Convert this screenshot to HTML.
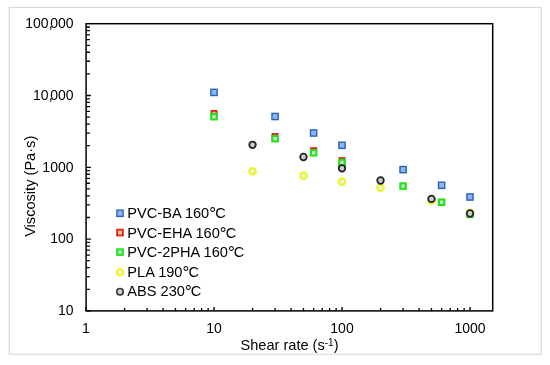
<!DOCTYPE html>
<html><head><meta charset="utf-8"><style>
html,body{margin:0;padding:0;background:#fff;}
svg{display:block;}
.t{font-family:"Liberation Sans",Arial,sans-serif;font-size:14.6px;fill:#000;}
.c{letter-spacing:-2.4px;}
.sup{font-size:10px;}
.dg{font-size:17px;}
.tl{font-size:14px;}
</style></head><body>
<svg width="550" height="365" viewBox="0 0 550 365">
<rect x="9.2" y="7.4" width="532" height="346.8" fill="#fff" stroke="#d9d9d9" stroke-width="1.2"/>
<rect x="86.1" y="23.7" width="406.6" height="287.2" fill="none" stroke="#000" stroke-width="1.5"/>
<path d="M86.2 310.90H90.9 M86.2 289.29H89.9 M86.2 276.64H89.9 M86.2 267.67H89.9 M86.2 260.71H89.9 M86.2 255.03H89.9 M86.2 250.22H89.9 M86.2 246.06H89.9 M86.2 242.39H89.9 M86.2 239.10H90.9 M86.2 217.49H89.9 M86.2 204.84H89.9 M86.2 195.87H89.9 M86.2 188.91H89.9 M86.2 183.23H89.9 M86.2 178.42H89.9 M86.2 174.26H89.9 M86.2 170.59H89.9 M86.2 167.30H90.9 M86.2 145.69H89.9 M86.2 133.04H89.9 M86.2 124.07H89.9 M86.2 117.11H89.9 M86.2 111.43H89.9 M86.2 106.62H89.9 M86.2 102.46H89.9 M86.2 98.79H89.9 M86.2 95.50H90.9 M86.2 73.89H89.9 M86.2 61.24H89.9 M86.2 52.27H89.9 M86.2 45.31H89.9 M86.2 39.63H89.9 M86.2 34.82H89.9 M86.2 30.66H89.9 M86.2 26.99H89.9" stroke="#000" stroke-width="1.3" fill="none"/>
<path d="M86.00 310.9V306.9 M124.53 310.9V307.9 M147.07 310.9V307.9 M163.06 310.9V307.9 M175.47 310.9V307.9 M185.60 310.9V307.9 M194.17 310.9V307.9 M201.60 310.9V307.9 M208.14 310.9V307.9 M214.00 310.9V306.9 M252.53 310.9V307.9 M275.07 310.9V307.9 M291.06 310.9V307.9 M303.47 310.9V307.9 M313.60 310.9V307.9 M322.17 310.9V307.9 M329.60 310.9V307.9 M336.14 310.9V307.9 M342.00 310.9V306.9 M380.53 310.9V307.9 M403.07 310.9V307.9 M419.06 310.9V307.9 M431.47 310.9V307.9 M441.60 310.9V307.9 M450.17 310.9V307.9 M457.60 310.9V307.9 M464.14 310.9V307.9 M470.00 310.9V306.9" stroke="#000" stroke-width="1.3" fill="none"/>
<text x="73.5" y="28.15" text-anchor="end" class="t tl">100<tspan class="c">,</tspan>000</text>
<text x="73.5" y="99.90" text-anchor="end" class="t tl">10<tspan class="c">,</tspan>000</text>
<text x="73.5" y="171.65" text-anchor="end" class="t tl">1000</text>
<text x="73.5" y="243.40" text-anchor="end" class="t tl">100</text>
<text x="73.5" y="315.15" text-anchor="end" class="t tl">10</text>
<text x="86.00" y="333.2" text-anchor="middle" class="t tl">1</text>
<text x="214.00" y="333.2" text-anchor="middle" class="t tl">10</text>
<text x="342.00" y="333.2" text-anchor="middle" class="t tl">100</text>
<text x="470.00" y="333.2" text-anchor="middle" class="t tl">1000</text>
<text x="289.5" y="349.6" text-anchor="middle" class="t">Shear rate (s<tspan class="sup" dy="-3.5">-1</tspan><tspan dy="3.5">)</tspan></text>
<text transform="translate(35.1 186.3) rotate(-90)" text-anchor="middle" class="t">Viscosity (Pa·s)</text>
<rect x="210.90" y="89.30" width="6.20" height="6.20" fill="#8cb4f6" stroke="#2763b2" stroke-width="1.4"/>
<rect x="271.97" y="113.40" width="6.20" height="6.20" fill="#8cb4f6" stroke="#2763b2" stroke-width="1.4"/>
<rect x="310.50" y="129.90" width="6.20" height="6.20" fill="#8cb4f6" stroke="#2763b2" stroke-width="1.4"/>
<rect x="338.90" y="142.20" width="6.20" height="6.20" fill="#8cb4f6" stroke="#2763b2" stroke-width="1.4"/>
<rect x="399.97" y="166.50" width="6.20" height="6.20" fill="#8cb4f6" stroke="#2763b2" stroke-width="1.4"/>
<rect x="438.50" y="182.20" width="6.20" height="6.20" fill="#8cb4f6" stroke="#2763b2" stroke-width="1.4"/>
<rect x="466.90" y="193.90" width="6.20" height="6.20" fill="#8cb4f6" stroke="#2763b2" stroke-width="1.4"/>
<rect x="211.45" y="110.90" width="5.10" height="5.80" fill="#f7c48e" stroke="#e31c1c" stroke-width="1.8"/>
<rect x="272.52" y="133.90" width="5.10" height="5.80" fill="#f7c48e" stroke="#e31c1c" stroke-width="1.8"/>
<rect x="311.05" y="148.10" width="5.10" height="5.80" fill="#f7c48e" stroke="#e31c1c" stroke-width="1.8"/>
<rect x="339.45" y="158.10" width="5.10" height="5.80" fill="#f7c48e" stroke="#e31c1c" stroke-width="1.8"/>
<rect x="211.25" y="113.95" width="5.50" height="5.50" fill="#cfdcc8" stroke="#1fe41f" stroke-width="2.1"/>
<rect x="272.32" y="135.95" width="5.50" height="5.50" fill="#cfdcc8" stroke="#1fe41f" stroke-width="2.1"/>
<rect x="310.85" y="150.05" width="5.50" height="5.50" fill="#cfdcc8" stroke="#1fe41f" stroke-width="2.1"/>
<rect x="339.25" y="159.75" width="5.50" height="5.50" fill="#cfdcc8" stroke="#1fe41f" stroke-width="2.1"/>
<rect x="400.32" y="183.35" width="5.50" height="5.50" fill="#cfdcc8" stroke="#1fe41f" stroke-width="2.1"/>
<rect x="438.85" y="199.45" width="5.50" height="5.50" fill="#cfdcc8" stroke="#1fe41f" stroke-width="2.1"/>
<rect x="467.25" y="211.55" width="5.50" height="5.50" fill="#cfdcc8" stroke="#1fe41f" stroke-width="2.1"/>
<circle cx="252.53" cy="171.30" r="3.25" fill="#fbeaea" stroke="#e8f82a" stroke-width="2.3"/>
<circle cx="303.47" cy="175.70" r="3.25" fill="#fbeaea" stroke="#e8f82a" stroke-width="2.3"/>
<circle cx="342.00" cy="181.70" r="3.25" fill="#fbeaea" stroke="#e8f82a" stroke-width="2.3"/>
<circle cx="380.53" cy="187.60" r="3.25" fill="#fbeaea" stroke="#e8f82a" stroke-width="2.3"/>
<circle cx="431.47" cy="200.60" r="3.25" fill="#fbeaea" stroke="#e8f82a" stroke-width="2.3"/>
<circle cx="470.00" cy="212.90" r="3.25" fill="#fbeaea" stroke="#e8f82a" stroke-width="2.3"/>
<circle cx="252.53" cy="144.80" r="3.28" fill="#cdcdcd" stroke="#222222" stroke-width="1.75"/>
<circle cx="303.47" cy="157.00" r="3.28" fill="#cdcdcd" stroke="#222222" stroke-width="1.75"/>
<circle cx="342.00" cy="168.30" r="3.28" fill="#cdcdcd" stroke="#222222" stroke-width="1.75"/>
<circle cx="380.53" cy="180.50" r="3.28" fill="#cdcdcd" stroke="#222222" stroke-width="1.75"/>
<circle cx="431.47" cy="198.90" r="3.28" fill="#cdcdcd" stroke="#222222" stroke-width="1.75"/>
<circle cx="470.00" cy="213.50" r="3.28" fill="#cdcdcd" stroke="#222222" stroke-width="1.75"/>
<rect x="116.90" y="210.20" width="6.20" height="6.20" fill="#8cb4f6" stroke="#2763b2" stroke-width="1.4"/>
<text x="127.3" y="217.90" class="t">PVC-BA 160<tspan class="dg" dy="1.1">°</tspan><tspan dx="-0.9" dy="-1.1">C</tspan></text>
<rect x="117.10" y="229.70" width="5.80" height="5.80" fill="#f7c48e" stroke="#e31c1c" stroke-width="1.8"/>
<text x="127.3" y="237.50" class="t">PVC-EHA 160<tspan class="dg" dy="1.1">°</tspan><tspan dx="-0.9" dy="-1.1">C</tspan></text>
<rect x="117.25" y="249.35" width="5.50" height="5.50" fill="#cfdcc8" stroke="#1fe41f" stroke-width="2.1"/>
<text x="127.3" y="257.10" class="t">PVC-2PHA 160<tspan class="dg" dy="1.1">°</tspan><tspan dx="-0.9" dy="-1.1">C</tspan></text>
<circle cx="120.00" cy="272.20" r="3.15" fill="#fbeaea" stroke="#e8f82a" stroke-width="2.3"/>
<text x="127.3" y="276.70" class="t">PLA 190<tspan class="dg" dy="1.1">°</tspan><tspan dx="-0.9" dy="-1.1">C</tspan></text>
<circle cx="120.00" cy="291.70" r="3.25" fill="#cdcdcd" stroke="#383838" stroke-width="1.6"/>
<text x="127.3" y="296.30" class="t">ABS 230<tspan class="dg" dy="1.1">°</tspan><tspan dx="-0.9" dy="-1.1">C</tspan></text>
</svg>
</body></html>
